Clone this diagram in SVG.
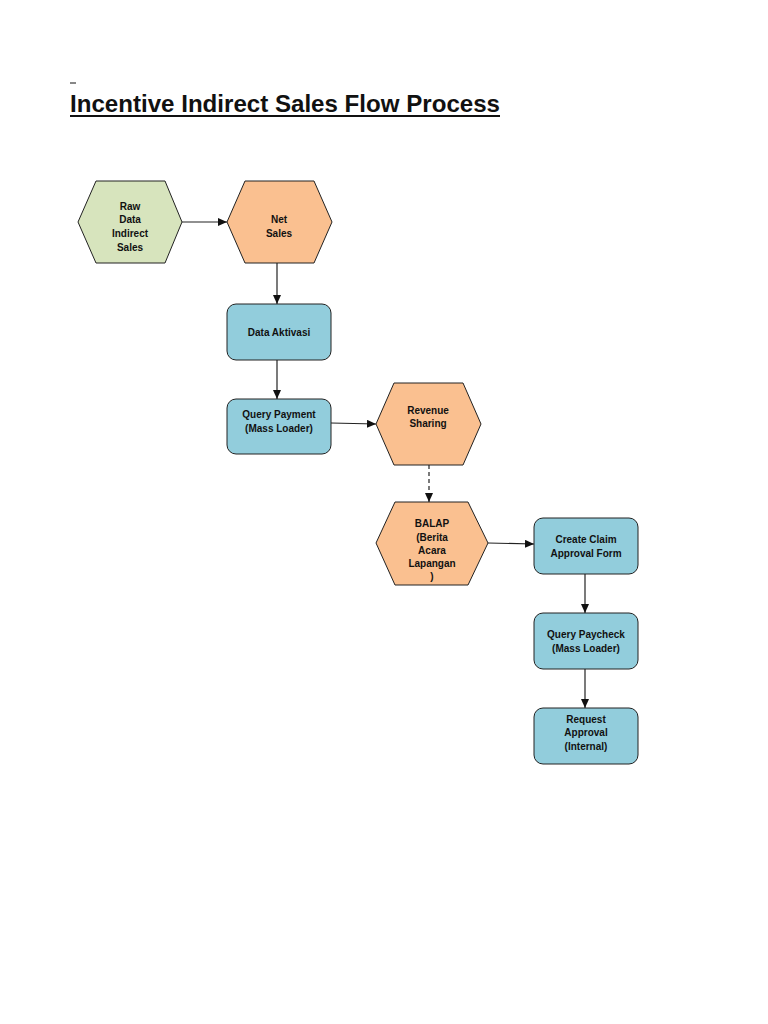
<svg xmlns="http://www.w3.org/2000/svg" width="768" height="1024" viewBox="0 0 768 1024">
<style>
.t{font-family:"Liberation Sans",Arial,sans-serif;font-weight:bold;font-size:10px;fill:#111;text-anchor:middle}
.hg{fill:#d7e4bd;stroke:#222;stroke-width:1}
.ho{fill:#fac090;stroke:#222;stroke-width:1}
.rb{fill:#92cddc;stroke:#222;stroke-width:1}
.c{stroke:#222;stroke-width:1.2;fill:none;marker-end:url(#a)}
</style>
<defs>
<marker id="a" markerWidth="10" markerHeight="8" refX="9" refY="4" orient="auto" markerUnits="userSpaceOnUse">
<path d="M0,0 L9,4 L0,8 z" fill="#111"/>
</marker>
</defs>
<rect width="768" height="1024" fill="#fff"/>
<g id="title">
<line x1="70" y1="83" x2="76" y2="83" stroke="#111" stroke-width="1"/>
<text x="70" y="112" font-family="Liberation Sans,Arial,sans-serif" font-weight="bold" font-size="24" fill="#111" textLength="430" lengthAdjust="spacingAndGlyphs">Incentive Indirect Sales Flow Process</text>
<line x1="70" y1="116" x2="500" y2="116" stroke="#111" stroke-width="1.8"/>
</g>
<g id="connectors">
<line class="c" x1="182" y1="222" x2="227" y2="222"/>
<line class="c" x1="277" y1="263" x2="277" y2="304"/>
<line class="c" x1="277" y1="360" x2="277" y2="399"/>
<line class="c" x1="331" y1="423" x2="376" y2="424"/>
<line class="c" x1="429" y1="465" x2="429" y2="502" stroke-dasharray="4,3"/>
<line class="c" x1="488" y1="543" x2="534" y2="544"/>
<line class="c" x1="585" y1="574" x2="585" y2="613"/>
<line class="c" x1="585" y1="669" x2="585" y2="708"/>
</g>
<g id="raw">
<polygon class="hg" points="78,222 96,181 165,181 182,222 165,263 96,263"/>
<text class="t" x="130" y="210">Raw</text>
<text class="t" x="130" y="223">Data</text>
<text class="t" x="130" y="237">Indirect</text>
<text class="t" x="130" y="251">Sales</text>
</g>
<g id="net">
<polygon class="ho" points="227,222 245,181 314,181 332,222 314,263 245,263"/>
<text class="t" x="279" y="223">Net</text>
<text class="t" x="279" y="237">Sales</text>
</g>
<g id="aktivasi">
<rect class="rb" x="227" y="304" width="104" height="56" rx="9"/>
<text class="t" x="279" y="336">Data Aktivasi</text>
</g>
<g id="qpay">
<rect class="rb" x="227" y="399" width="104" height="55" rx="9"/>
<text class="t" x="279" y="418">Query Payment</text>
<text class="t" x="279" y="432">(Mass Loader)</text>
</g>
<g id="rev">
<polygon class="ho" points="376,424 394,383 463,383 481,424 463,465 394,465"/>
<text class="t" x="428" y="414">Revenue</text>
<text class="t" x="428" y="427">Sharing</text>
</g>
<g id="balap">
<polygon class="ho" points="376,543 395,502 468,502 488,543 468,585 395,585"/>
<text class="t" x="432" y="527">BALAP</text>
<text class="t" x="432" y="541">(Berita</text>
<text class="t" x="432" y="554">Acara</text>
<text class="t" x="432" y="567">Lapangan</text>
<text class="t" x="432" y="580">)</text>
</g>
<g id="claim">
<rect class="rb" x="534" y="518" width="104" height="56" rx="9"/>
<text class="t" x="586" y="543">Create Claim</text>
<text class="t" x="586" y="557">Approval Form</text>
</g>
<g id="paycheck">
<rect class="rb" x="534" y="613" width="104" height="56" rx="9"/>
<text class="t" x="586" y="638">Query Paycheck</text>
<text class="t" x="586" y="652">(Mass Loader)</text>
</g>
<g id="request">
<rect class="rb" x="534" y="708" width="104" height="56" rx="9"/>
<text class="t" x="586" y="723">Request</text>
<text class="t" x="586" y="736">Approval</text>
<text class="t" x="586" y="750">(Internal)</text>
</g>
</svg>
